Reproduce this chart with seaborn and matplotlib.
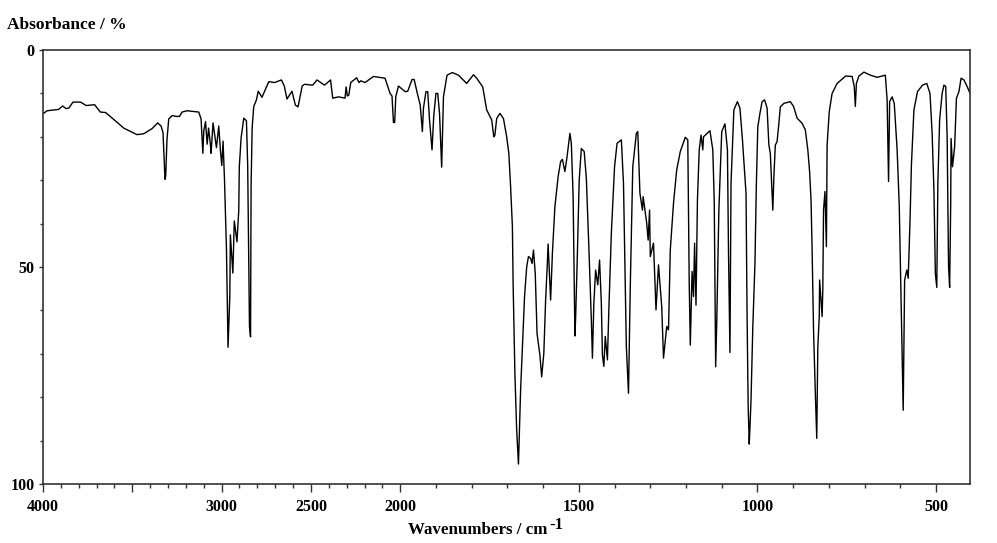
import numpy as np
import matplotlib
matplotlib.use("Agg")
import matplotlib.pyplot as plt
import seaborn as sns

wn_high = [4000,3977,3913,3890,3871,3856,3832,3790,3758,3711,3679,3650,3604,3548,3474,3436,3389,3358,3339,3328,
           3324,3317,3313,3311,3306,3296,3277,3255,3236,3221,3194,3128,3115,3105,3100,3090,3081,3073,3063,3059,
           3048,3029,3016,3007,2999,2992,2984,2973,2964,2954,2951,2937,2929,2914,2904,2901,2891,2876,2861,2854,
           2844,2838,2835,2829,2820,2805,2795,2774,2736,2704,2665,2649,2634,2606,2587,2572,2549,2536,2490,2466,
           2424,2390,2378,2345,2309,2303,2296,2288,2277,2244,2231,2221,2197,2150,2085,2072,2057,2046,2038,2031,
           2025,2010]
abs_high = [14.7,14.0,13.7,12.9,13.5,13.4,12.0,12.0,12.8,12.6,14.3,14.4,16.0,18.0,19.5,19.3,18.1,16.8,17.5,19.1,
            23.2,29.8,29.0,26.5,20.7,15.9,15.1,15.3,15.3,14.3,14.0,14.3,15.9,23.8,18.7,16.5,21.7,18.0,21.7,23.8,
            16.8,22.5,17.5,23.0,26.6,21.0,29.7,45.7,68.5,56.5,42.6,51.4,39.4,44.2,37.0,27.0,20.3,15.7,16.3,26.6,
            63.7,66.1,31.4,17.9,13.0,11.5,9.5,10.9,7.3,7.5,6.9,8.3,11.3,9.5,12.7,13.1,8.3,7.9,8.1,6.9,
            8.1,6.9,11.1,10.8,11.1,8.5,10.6,10.4,7.5,6.4,7.5,7.1,7.5,6.1,6.5,8.1,10.0,10.6,16.7,16.7,
            10.8,8.3]

wn_mid = [1986,1979,1967,1961,1951,1944,1938,1935,1928,1923,1918,1911,1906,1900,1895,1890,1884,1879,1869,1854,
          1837,1814,1795,1786,1769,1758,1744,1738,1735,1730,1721,1711,1702,1696,1691,1686,1684,1679,1674,1669,
          1663,1657,1652,1646,1641,1635,1631,1627,1622,1617,1609,1604,1598,1593,1589,1586,1579,1574,1567,1558,
          1551,1546,1539,1533,1525,1521,1516,1511,1509,1504,1499,1493,1485,1479,1472,1465,1462,1458,1453,1447,
          1442,1437,1434,1430,1426,1420,1416,1409,1400,1393,1381,1375,1367,1361,1356,1349,1339,1335,1329,1322,
          1320,1315,1310,1306,1302,1300,1291,1284,1277,1268,1263,1254,1249,1244,1235,1226,1216,1202,1195,1191,
          1188,1183,1179,1176,1172,1168,1163,1158,1153,1151,1133,1125,1121,1117,1114,1108,1100,1091,1084,1081,
          1077,1074,1066,1056,1049,1042,1032,1029,1026]
abs_mid = [9.6,9.5,6.8,6.8,10.4,12.7,18.8,13.4,9.6,9.6,16.1,23.0,15.0,10.0,10.0,14.6,27.0,10.8,5.8,5.2,
           5.8,7.7,5.7,6.5,8.5,13.8,16.1,20.0,19.6,15.8,14.6,15.8,20.0,23.8,31.5,40.7,53.8,74.5,87.6,95.4,
           78.3,66.8,56.8,50.0,47.6,48.0,49.2,46.1,51.5,65.3,70.3,75.3,69.9,57.6,50.7,44.7,57.6,46.8,36.1,29.2,
           25.7,25.2,28.0,24.6,19.2,21.5,33.8,65.9,61.8,46.8,30.0,22.7,23.4,29.6,45.3,62.2,71.0,58.4,50.7,54.1,
           48.4,58.4,70.3,72.9,66.0,71.4,59.9,42.2,26.9,21.5,20.7,30.7,68.4,79.1,54.5,26.9,19.2,18.8,33.0,36.9,
           33.8,36.9,39.9,43.8,36.9,47.6,44.5,59.9,49.5,59.1,71.0,63.7,64.5,46.1,35.3,27.6,23.4,20.1,20.7,53.8,
           68.0,51.0,56.8,44.5,58.8,34.6,23.0,19.6,23.0,20.0,18.6,23.0,34.6,73.0,63.0,36.9,18.8,17.0,23.0,46.8,
           69.7,30.7,13.8,11.9,13.4,20.7,33.0,61.4,82.0]

wn_low = [1023,1021,1018,1013,1007,1003,999,993,987,980,973,968,964,961,957,954,950,945,940,936,
          926,908,899,889,875,866,859,854,850,847,843,838,834,831,827,826,819,817,815,811,
          807,805,799,791,777,753,735,729,726,723,716,702,684,665,642,637,633,630,623,617,
          609,603,598,592,588,582,578,573,569,562,552,538,526,517,511,506,502,498,495,490,
          483,478,473,469,465,462,459,458,454,448,443,436,430,422,413,405]
abs_low = [90.8,87.0,80.6,63.8,49.2,30.7,17.7,14.6,11.9,11.5,13.4,21.9,23.8,29.2,36.9,29.2,21.9,21.1,16.9,13.1,
           12.3,11.9,13.0,15.7,16.9,18.4,23.0,28.0,34.6,46.0,64.5,79.0,89.5,68.4,61.4,53.0,61.4,55.0,36.9,32.6,
           45.3,21.9,14.2,10.0,7.7,6.0,6.1,8.4,13.0,7.7,6.0,5.1,5.8,6.3,5.8,11.5,30.3,11.9,10.8,12.3,
           23.0,36.0,57.6,83.0,53.0,50.7,52.6,39.6,26.5,13.8,9.6,8.1,7.7,10.0,19.2,32.3,51.5,54.7,30.7,16.1,
           10.0,8.1,8.4,20.0,50.0,54.7,35.3,20.4,26.9,22.3,11.1,9.6,6.5,6.9,8.4,10.0]

x_major = [4000, 3500, 3000, 2500, 2000, 1500, 1000, 500]
x_major_labels = ["4000", "", "3000", "2500", "2000", "1500", "1000", "500"]
y_major = [0, 50, 100]

wavenumber = np.array(wn_high + wn_mid + wn_low, dtype=float)
absorbance = np.array(abs_high + abs_mid + abs_low, dtype=float)

sns.set_theme(style="white")
plt.rcParams["font.family"] = ["Liberation Serif", "DejaVu Serif"]
plt.rcParams["font.weight"] = "bold"

W, H = 997, 543
fig = plt.figure(figsize=(W / 100, H / 100), dpi=100, facecolor="white")
ax = fig.add_axes([43 / W, 1 - 484 / H, (970 - 43) / W, (484 - 50) / H])

sns.lineplot(x=wavenumber, y=absorbance, sort=False, estimator=None, errorbar=None,
             color="black", linewidth=1.0, ax=ax)


def forward(w):
    w = np.asarray(w, dtype=float)
    return np.where(w < 2000, w - 2000, (w - 2000) / 2)


def inverse(v):
    v = np.asarray(v, dtype=float)
    return np.where(v < 0, v + 2000, v * 2 + 2000)


ax.set_xscale("function", functions=(forward, inverse))
ax.set_xlim(4000, 405)
ax.set_ylim(100, 0)

ax.set_xticks(x_major)
ax.set_xticklabels(x_major_labels, fontsize=11.5, fontweight="bold", color="black")
ax.set_xticks(np.arange(500, 4000, 100), minor=True)
ax.set_yticks(y_major)
ax.set_yticklabels([str(v) for v in y_major], fontsize=11.5, fontweight="bold", color="black")
ax.set_yticks(np.arange(0, 101, 10), minor=True)
ax.tick_params(axis="x", which="major", length=6, width=1, color="#333333", pad=5, bottom=True)
ax.tick_params(axis="x", which="minor", length=3, width=1, color="#333333", bottom=True)
ax.tick_params(axis="y", which="major", length=3, width=1, color="#333333", pad=3, left=True)
ax.tick_params(axis="y", which="minor", length=2.5, width=1, color="#333333", left=True)
for s in ax.spines.values():
    s.set_visible(True)
    s.set_color("#333333")
    s.set_linewidth(1.2)

ax.set_xlabel("")
ax.set_ylabel("")
fig.text(7 / W, 1 - 29 / H, "Absorbance / %", fontsize=12.5, fontweight="bold", color="black")
fig.text(408 / W, 1 - 534 / H, "Wavenumbers / cm", fontsize=12.2, fontweight="bold", color="black")
fig.text(549 / W, 1 - 529 / H, "-1", fontsize=12, fontweight="bold", color="black")

fig.savefig("out.png", dpi=100, facecolor="white")
